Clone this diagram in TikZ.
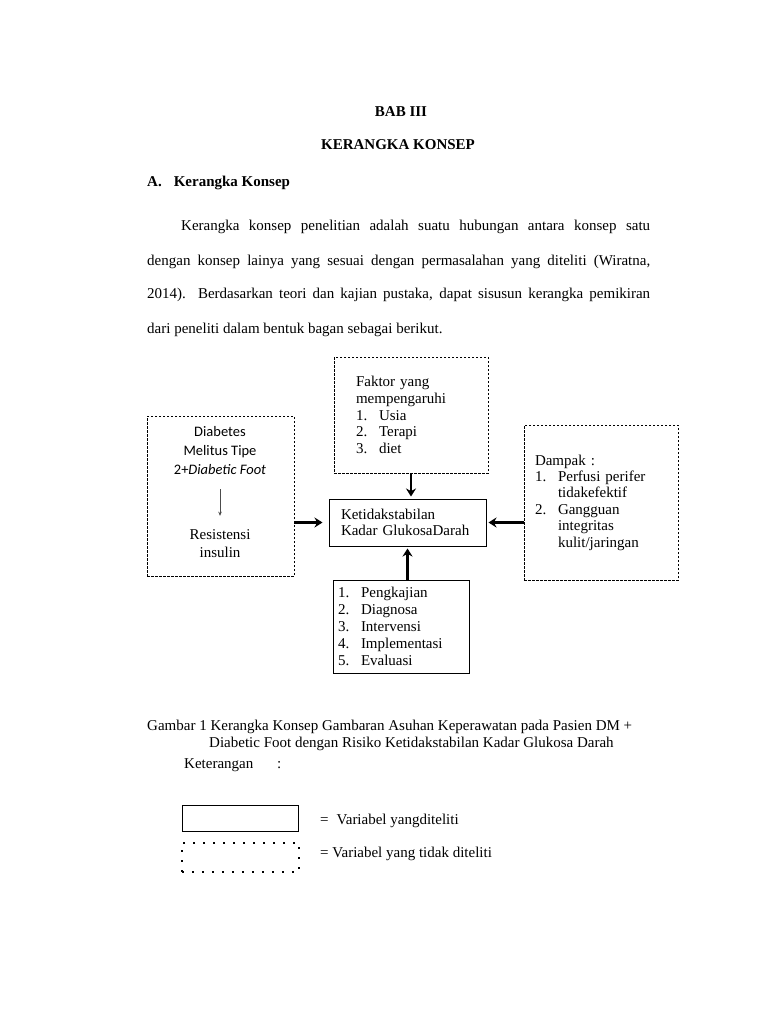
\documentclass[tikz,border=0pt]{standalone}
\usepackage{fontspec}
\setmainfont{Liberation Serif}
\newfontfamily\calibri{Carlito}
\usetikzlibrary{positioning,arrows.meta}
\newcommand\nomor[1]{\makebox[23pt][l]{#1}}
\newcommand\baris[2]{\makebox[#1pt][s]{#2}}

\tikzset{
	every node/.style={font=\fontsize{15}{17}\selectfont, inner sep=0pt},
	dashbox/.style={draw, dash pattern=on 2.5pt off 1.5pt, line width=0.8pt},
	solidbox/.style={draw, line width=1pt},
	dotbox/.style={draw, dash pattern=on 2pt off 8pt, line width=2pt},
	bigarrow/.style={line width=2.4pt, -{Stealth[length=8pt,width=10pt]}},
	thinarrow/.style={line width=0.6pt, draw=black!70, -{Stealth[length=4pt,width=3.5pt]}}
}

\begin{document}
\begin{tikzpicture}[x=1pt,y=-1pt]
			\useasboundingbox (0,0) rectangle (768,1024);
			\fill[white] (0,0) rectangle (768,1024);
% 			judul
			\node[anchor=base, font=\fontsize{15}{17}\selectfont\bfseries] (bab) at (401,117) {BAB III};
			\node[anchor=base, font=\fontsize{15}{17}\selectfont\bfseries] (judul) at (398,150) {KERANGKA KONSEP};
			\node[anchor=base west, font=\fontsize{15}{17}\selectfont\bfseries] (subA) at (147,187) {A.\hspace{12pt}Kerangka Konsep};
			\node[anchor=base west] (par1) at (181,230) {\baris{469}{Kerangka konsep penelitian adalah suatu hubungan antara konsep satu}};
			\node[anchor=base west] (par2) at (147,265) {\baris{503}{dengan konsep lainya yang sesuai dengan permasalahan yang diteliti (Wiratna,}};
			\node[anchor=base west] (par3) at (147,298) {\baris{503}{2014). Berdasarkan teori dan kajian pustaka, dapat sisusun kerangka pemikiran}};
			\node[anchor=base west] (par4) at (147,333) {dari peneliti dalam bentuk bagan sebagai berikut.};

% 			bagan
			\node[dashbox, minimum width=147, minimum height=160] (dmbox) at (220.5,496) {};
			\node[align=center, font=\calibri\fontsize{14.5}{19}\selectfont] (dmtext) at (220,451) {Diabetes\\Melitus Tipe\\2+\textit{Diabetic Foot}};
			\node[align=center, font=\fontsize{15}{18}\selectfont] (resist) at (220,544) {Resistensi\\insulin};
			\draw[thinarrow, shorten <=14pt, shorten >=14pt] (dmtext) -- (resist);

			\node[dashbox, minimum width=154, minimum height=116, text width=110, align=left, font=\fontsize{15}{16.75}\selectfont] (faktor) at (411,415)
			{Faktor yang\\mempengaruhi\\\nomor{1.}Usia\\\nomor{2.}Terapi\\\nomor{3.}diet};
			\node[solidbox, minimum width=157, minimum height=47, text width=133, align=left, font=\fontsize{15}{16}\selectfont] (ketidak) at (407.5,522.5)
			{Ketidakstabilan\\Kadar GlukosaDarah};
			\node[dashbox, minimum width=154, minimum height=155, text width=132, align=left, font=\fontsize{15}{16.4}\selectfont] (dampak) at (601,502.5)
			{Dampak :\\\nomor{1.}Perfusi perifer\\\hspace*{23pt}tidakefektif\\\nomor{2.}Gangguan\\\hspace*{23pt}integritas\\\hspace*{23pt}kulit/jaringan};
			\node[solidbox, minimum width=136, minimum height=93, text width=126, align=left, font=\fontsize{15}{17}\selectfont] (askep) at (401,626.5)
			{\nomor{1.}Pengkajian\\\nomor{2.}Diagnosa\\\nomor{3.}Intervensi\\\nomor{4.}Implementasi\\\nomor{5.}Evaluasi};

			\begin{scope}[bigarrow]
			\draw[shorten >=6pt] (dmbox.east |- ketidak.west) -- (ketidak.west);
			\draw[shorten >=2pt] (faktor.south) -- (faktor.south |- ketidak.north);
			\draw[shorten >=2pt] (dampak.west |- ketidak.east) -- (ketidak.east);
			\draw[shorten >=2pt] (ketidak.south |- askep.north) -- (ketidak.south);
			\end{scope}

% 			keterangan
			\node[anchor=base west] (gambar1) at (147,730) {Gambar 1 Kerangka Konsep Gambaran Asuhan Keperawatan pada Pasien DM +};
			\node[anchor=base west] (gambar2) at (209,747) {Diabetic Foot dengan Risiko Ketidakstabilan Kadar Glukosa Darah};
			\node[anchor=base west] (ket) at (184,768) {Keterangan};
			\node[anchor=base west] (titik) at (277,768) {:};
			\node[solidbox, minimum width=116, minimum height=26] (diteliti) at (240,818.5) {};
			\node[dotbox, minimum width=117, minimum height=29] (tidak) at (240.5,857.5) {};
			\node[anchor=base west] (ket1) at (320,824) {=\hspace{8pt}Variabel yangditeliti};
			\node[anchor=base west] (ket2) at (320,857) {= Variabel yang tidak diteliti};
\end{tikzpicture}
\end{document}
